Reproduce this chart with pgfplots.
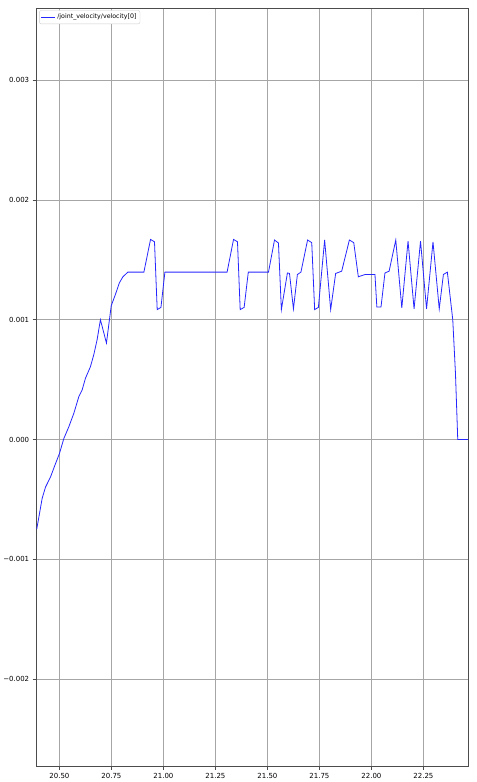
\documentclass[border=0pt]{standalone}
\usepackage{pgfplots}
\pgfplotsset{compat=1.18}
\usepackage{fontspec}
\setmainfont{DejaVu Sans}

\begin{document}
\begin{tikzpicture}
\begin{axis}[name=ax, scale only axis, width=432bp, height=758bp,
  xmin=20.388, xmax=22.465, ymin=-0.002724, ymax=0.003601,
  xtick={20.5,20.75,21,21.25,21.5,21.75,22,22.25},
  xticklabels={20.50,20.75,21.00,21.25,21.50,21.75,22.00,22.25},
  ytick={-0.002,-0.001,0,0.001,0.002,0.003},
  yticklabels={−0.002,−0.001,0.000,0.001,0.002,0.003},
  scaled y ticks=false,
  ticklabel style={font=\fontsize{7}{8}\selectfont},
  tick align=outside, xtick pos=bottom, ytick pos=left,
  major tick length=3.5bp, tick style={black!70, line width=0.6bp},
  axis line style={black!70, line width=0.8bp},
  grid=major, grid style={black!35, line width=0.7bp},
  legend style={at={(0.007,0.997)}, anchor=north west, draw=black!20, rounded corners=2pt,
    font=\fontsize{6.3}{7.5}\selectfont, inner sep=1.6pt},
  legend cell align=left,
  legend image post style={xscale=0.8},
]
\addplot[blue!85!white, line width=0.8bp] coordinates {
(20.391,-0.000746)(20.417,-0.000490)(20.433,-0.000397)(20.457,-0.000313)(20.478,-0.000215)
(20.500,-0.000117)(20.521,0.000008)(20.545,0.000106)(20.569,0.000218)(20.593,0.000357)
(20.609,0.000413)(20.625,0.000511)(20.649,0.000608)(20.665,0.000707)(20.681,0.000832)
(20.697,0.001000)(20.726,0.000805)(20.749,0.001117)(20.769,0.001210)(20.788,0.001307)
(20.805,0.001358)(20.829,0.001397)(20.906,0.001397)(20.938,0.001670)(20.957,0.001650)
(20.970,0.001084)(20.988,0.001103)(21.007,0.001397)(21.306,0.001397)(21.337,0.001670)
(21.356,0.001650)(21.369,0.001084)(21.388,0.001103)(21.408,0.001397)(21.505,0.001397)
(21.534,0.001665)(21.553,0.001640)(21.567,0.001084)(21.596,0.001390)(21.606,0.001386)
(21.625,0.001090)(21.644,0.001377)(21.661,0.001397)(21.693,0.001665)(21.713,0.001643)
(21.727,0.001084)(21.745,0.001103)(21.775,0.001665)(21.804,0.001084)(21.828,0.001386)
(21.857,0.001405)(21.894,0.001665)(21.915,0.001643)(21.937,0.001358)(21.969,0.001377)
(22.017,0.001377)(22.026,0.001106)(22.046,0.001106)(22.065,0.001390)(22.085,0.001405)
(22.117,0.001665)(22.146,0.001098)(22.176,0.001656)(22.205,0.001090)(22.236,0.001656)
(22.265,0.001090)(22.296,0.001650)(22.326,0.001090)(22.346,0.001377)(22.365,0.001397)
(22.391,0.001000)(22.404,0.000553)(22.415,0.000000)(22.465,0.000000)
};
\legend{/joint\_velocity/velocity[0]}
\end{axis}
\path ([shift={(-34bp,-16bp)}]ax.south west) rectangle ([shift={(8bp,8bp)}]ax.north east);
\end{tikzpicture}
\end{document}
